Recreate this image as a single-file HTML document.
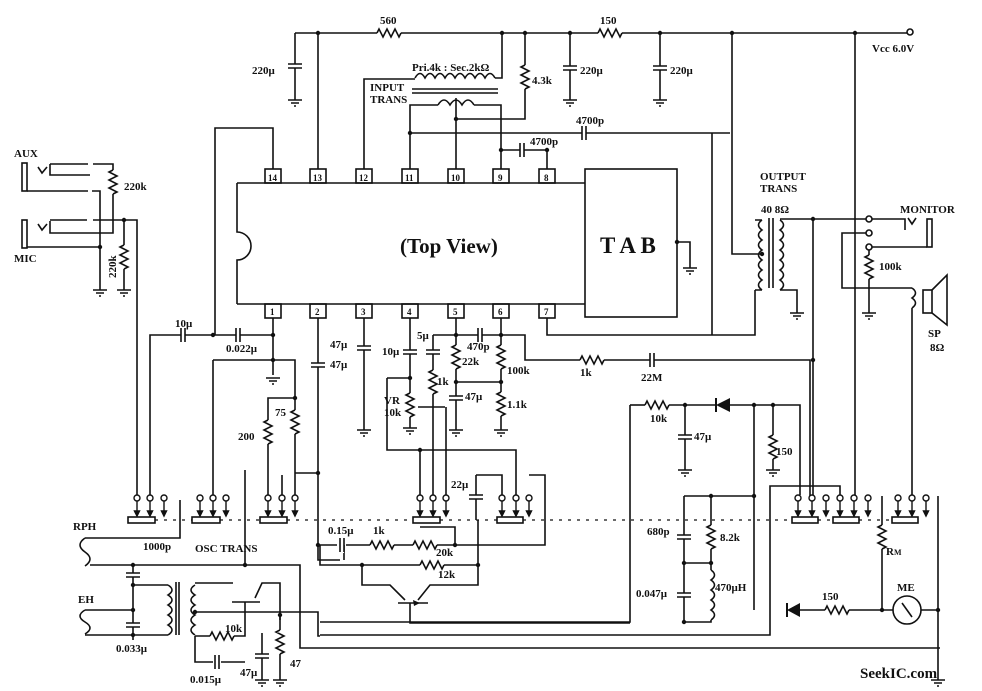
<!DOCTYPE html>
<html><head><meta charset="utf-8"><style>
html,body{margin:0;padding:0;background:#fff}
svg{display:block}
text{font-family:"Liberation Serif",serif;fill:#111;font-weight:bold}
.s{font-size:11px}
</style></head><body>
<svg width="982" height="691" viewBox="0 0 982 691" xmlns="http://www.w3.org/2000/svg">
<defs>
<path id="rh" d="M0 0 l2 -4 l4 8 l4 -8 l4 8 l4 -8 l4 8 l2 -4"/>
<path id="rv" d="M0 0 l-4 2 l8 4 l-8 4 l8 4 l-8 4 l8 4 l-4 2"/>
<g id="g"><path d="M-7 0 h14 M-4 3 h8 M-1 6 h2"/></g>
<g id="cv"><rect x="-8" y="-2" width="16" height="4" fill="#fff" stroke="none"/><path d="M-7 -2 h14 M-7 2 h14"/></g>
<g id="ch"><rect x="-2" y="-8" width="4" height="16" fill="#fff" stroke="none"/><path d="M-2 -7 v14 M2 -7 v14"/></g>
<g id="sw"><circle cx="0" cy="0" r="3" fill="#fff"/><path d="M0 3 V16"/><path d="M-2.5 13 L0 18 L2.5 13 Z" fill="#111"/></g>
</defs>
<g stroke="#111" stroke-width="1.6" fill="none">
<!-- top rail -->
<path d="M295 33 H377 M401 33 H598 M622 33 H907"/>
<use href="#rh" x="377" y="33"/><use href="#rh" x="598" y="33"/>
<path d="M295 33 V100"/><use href="#cv" x="295" y="66"/><use href="#g" x="295" y="100"/>
<path d="M318 33 V169"/>
<path d="M570 33 V100"/><use href="#cv" x="570" y="68"/><use href="#g" x="570" y="100"/>
<path d="M660 33 V100"/><use href="#cv" x="660" y="68"/><use href="#g" x="660" y="100"/>
<path d="M502 33 V78 H495"/>
<path d="M525 33 V65"/><use href="#rv" x="525" y="65"/><path d="M525 89 V119 H456"/>
<path d="M732 33 V254 H762"/>
<path d="M855 33 V500"/>
<circle cx="910" cy="32" r="3" fill="#fff"/>
<!-- input trans -->
<path d="M364 169 V79 H415"/>
<path d="M415 78 q5 -9 10 0 q5 -9 10 0 q5 -9 10 0 q5 -9 10 0 q5 -9 10 0 q5 -9 10 0 q5 -9 10 0 q5 -9 10 0"/>
<path d="M412 89 h86 M412 93 h86"/>
<path d="M438 105 q6 -10 12 0 q6 -10 12 0 q6 -10 12 0 M438 105 H410 V169 M474 105 H501 V169 M456 98 V169"/>
<path d="M410 133 H730"/><use href="#ch" x="584" y="133"/>
<path d="M501 150 H547 V169"/><use href="#ch" x="522" y="150"/>
<path d="M273 169 V128 H215 V335"/>
<!-- IC -->
<path d="M237 183 H585 M237 304 H585 M237 183 V232 A13 13 0 0 1 237 260 V304"/>
<rect x="585" y="169" width="92" height="148"/>
<path d="M677 242 H690 V268"/><use href="#g" x="690" y="268"/>
<rect x="265" y="169" width="16" height="14"/><rect x="310" y="169" width="16" height="14"/><rect x="356" y="169" width="16" height="14"/><rect x="402" y="169" width="16" height="14"/><rect x="448" y="169" width="16" height="14"/><rect x="493" y="169" width="16" height="14"/><rect x="539" y="169" width="16" height="14"/>
<rect x="265" y="304" width="16" height="14"/><rect x="310" y="304" width="16" height="14"/><rect x="356" y="304" width="16" height="14"/><rect x="402" y="304" width="16" height="14"/><rect x="448" y="304" width="16" height="14"/><rect x="493" y="304" width="16" height="14"/><rect x="539" y="304" width="16" height="14"/>
<!-- left jacks -->
<rect x="22" y="163" width="5" height="28"/><rect x="22" y="220" width="5" height="28"/>
<path d="M38 167 l4 6 l5 -6 M38 224 l4 6 l5 -6"/>
<path d="M50 164 V175 H90 M50 164 H88 M93 164 H113 V170"/><use href="#rv" x="113" y="170"/><path d="M113 194 V233 H50 V221"/>
<path d="M27 191 H88 M92 191 H100 V290"/><use href="#g" x="100" y="290"/>
<path d="M50 220 H87 M93 220 H137 V500"/>
<path d="M27 247 H100"/>
<path d="M124 220 V245"/><use href="#rv" x="124" y="245"/><path d="M124 269 V290"/><use href="#g" x="124" y="290"/>
<!-- pin1 area -->
<path d="M150 500 V335 H213 M213 335 H273 M273 318 V375"/>
<use href="#ch" x="183" y="335"/><use href="#ch" x="238" y="335"/>
<use href="#g" x="273" y="378"/>
<path d="M213 360 H295 V398 H268 V420 M213 360 V500"/>
<use href="#rv" x="268" y="420"/><path d="M268 444 V495"/>
<path d="M295 398 V410"/><use href="#rv" x="295" y="410"/><path d="M295 434 V495 M282 475 V495 M295 473 H318"/>
<!-- pins bottom -->
<path d="M318 318 V560 H340 M344 545 V560 M318 545 H337"/><use href="#cv" x="318" y="365"/>
<use href="#ch" x="342" y="545"/><path d="M346 545 H370"/><use href="#rh" x="370" y="545"/><path d="M394 545 H413"/><use href="#rh" x="413" y="545"/><path d="M437 545 H545 V475 H529 M455 545 V527 H420"/>
<path d="M364 318 V430"/><use href="#cv" x="364" y="348"/><use href="#g" x="364" y="430"/>
<path d="M410 318 V393"/><use href="#cv" x="410" y="352"/><path d="M387 378 H410"/><use href="#rv" x="410" y="393"/><path d="M410 417 V428"/><use href="#g" x="410" y="428"/>
<path d="M445 407 H418 M387 378 V450 H516 V495 M420 450 V495 M433 335 V370"/><use href="#cv" x="433" y="352"/><use href="#rv" x="433" y="370"/><path d="M433 394 V495 M446 407 V500" />
<path d="M433 335 H501 M456 318 V345"/><use href="#ch" x="480" y="335"/><use href="#rv" x="456" y="345"/><path d="M456 369 V430 M456 382 H501"/><use href="#cv" x="456" y="398"/><use href="#g" x="456" y="430"/>
<path d="M501 318 V345"/><use href="#rv" x="501" y="345"/><path d="M501 369 V392"/><use href="#rv" x="501" y="392"/><path d="M501 416 V430"/><use href="#g" x="501" y="430"/>
<path d="M501 335 H525 V360 H580"/><use href="#rh" x="580" y="360"/><path d="M604 360 H810 V500"/><use href="#ch" x="652" y="360"/>
<path d="M547 318 V335 H712 V133 M712 335 H755 V290"/>
<path d="M476 475 V520 M476 475 H502 V495"/><use href="#cv" x="476" y="497"/>
<!-- output trans -->
<path d="M762 220 q-7 5 0 10 q-7 5 0 10 q-7 5 0 10 q-7 5 0 10 q-7 5 0 10 q-7 5 0 10 q-7 5 0 10 M755 220 H762 M755 290 H762"/>
<path d="M769 218 V288 M773 218 V288"/>
<path d="M780 220 q7 5 0 10 q7 5 0 10 q7 5 0 10 q7 5 0 10 q7 5 0 10 q7 5 0 10 q7 5 0 10 M780 219 H866 M780 290 H797 V313"/><use href="#g" x="797" y="313"/>
<path d="M813 219 V500"/>
<path d="M866 233 H842 V288 H912"/>
<path d="M912 288 q7 5 0 10 q7 5 0 10 M912 308 V500"/>
<path d="M869 250 V255"/><use href="#rv" x="869" y="255"/><path d="M869 279 V313"/><use href="#g" x="869" y="313"/>
<circle cx="869" cy="219" r="3" fill="#fff"/><circle cx="869" cy="233" r="3" fill="#fff"/><circle cx="869" cy="247" r="3" fill="#fff"/>
<path d="M872 219 H905 V230 M908 218 l4 6 l4 -6 M872 247 H927"/>
<rect x="927" y="219" width="5" height="28"/>
<rect x="923" y="290" width="9" height="23"/><path d="M932 290 L947 275 V325 L932 313"/>
<!-- lower right -->
<path d="M630 405 H645"/><use href="#rh" x="645" y="405"/><path d="M669 405 H716 M730 405 H800 V495 M630 405 V622 H320"/>
<path d="M685 405 V470"/><use href="#cv" x="685" y="437"/><use href="#g" x="685" y="470"/>
<path d="M773 405 V435"/><use href="#rv" x="773" y="435"/><path d="M773 459 V470"/><use href="#g" x="773" y="470"/>
<path d="M754 405 V610"/>
<path d="M684 496 H754 M684 496 V622"/><use href="#cv" x="684" y="537"/><use href="#cv" x="684" y="595"/>
<path d="M711 496 V525"/><use href="#rv" x="711" y="525"/><path d="M711 549 V570 M684 563 H711"/>
<path d="M711 570 q7 5 0 10 q7 5 0 10 q7 5 0 10 q7 5 0 10 q7 5 0 10 M711 620 V622 H684"/>
<path d="M320 635 H770 V486 H840 V496"/>
<path d="M800 610 H825"/><use href="#rh" x="825" y="610"/><path d="M849 610 H893 M921 610 H938 M882 496 V500 H882 V525"/><use href="#rv" x="882" y="525"/><path d="M882 549 V610"/>
<circle cx="907" cy="610" r="14"/><path d="M902 603 L912 617"/>
<path d="M938 496 V680"/><use href="#g" x="938" y="680"/>
<!-- lower left -->
<path d="M180 500 V538 H85 M90 565 H245 M245 565 V470 M245 565 H300 V648 H940"/>
<path d="M85 538 q-10 7 0 14 q10 7 0 14"/>
<path d="M133 565 V640"/><use href="#cv" x="133" y="575"/><use href="#cv" x="133" y="625"/>
<path d="M133 585 H168 M133 610 H85 M85 635 H133 H168"/>
<path d="M85 610 q-10 6 0 12 q10 6 0 12"/>
<path d="M168 585 q8 5 0 10 q8 5 0 10 q8 5 0 10 q8 5 0 10 q8 5 0 10"/>
<path d="M176 582 V635 M179 582 V635"/>
<path d="M195 585 q-8 5 0 10 q-8 5 0 10 q-8 5 0 10 q-8 5 0 10 q-8 5 0 10"/>
<path d="M195 583 H233 M195 612 H318 V636 H320 M195 636 H210"/><use href="#rh" x="210" y="636"/><path d="M234 636 H245 V603"/>
<path d="M195 636 V662 H213"/><use href="#ch" x="217" y="662"/><path d="M221 662 H245"/>
<path d="M232 602 H260 M245 602 V603 M255 598 L262 583 H280 V620"/>
<path d="M262 633 V680"/><use href="#cv" x="262" y="656"/><use href="#g" x="262" y="680"/>
<path d="M280 615 V630"/><use href="#rv" x="280" y="630"/><path d="M280 654 V680"/><use href="#g" x="280" y="680"/>
<!-- transistor right -->
<path d="M320 545 V565 H420"/><use href="#rh" x="420" y="565"/><path d="M444 565 H478 V520 M478 565 V585 H430 L418 600 M362 565 V585 H390 L405 600 M398 603 H428 M410 603 V623 H630"/>
<!-- switches -->
<rect x="128" y="517" width="27" height="6"/><rect x="192" y="517" width="28" height="6"/><rect x="260" y="517" width="27" height="6"/><rect x="413" y="517" width="27" height="6"/><rect x="497" y="517" width="26" height="6"/>
<rect x="792" y="517" width="26" height="6"/><rect x="833" y="517" width="26" height="6"/><rect x="892" y="517" width="26" height="6"/>
<path stroke-width="1.2" stroke-dasharray="3 6" d="M155 520 H192 M220 520 H260 M287 520 H413 M440 520 H497 M523 520 H792 M818 520 H833 M859 520 H892"/>
</g>
<g stroke="#111" stroke-width="1.4" fill="none">
<use href="#sw" x="137" y="498"/><use href="#sw" x="150" y="498"/><use href="#sw" x="164" y="498"/>
<use href="#sw" x="200" y="498"/><use href="#sw" x="213" y="498"/><use href="#sw" x="226" y="498"/>
<use href="#sw" x="268" y="498"/><use href="#sw" x="282" y="498"/><use href="#sw" x="295" y="498"/>
<use href="#sw" x="420" y="498"/><use href="#sw" x="433" y="498"/><use href="#sw" x="446" y="498"/>
<use href="#sw" x="502" y="498"/><use href="#sw" x="516" y="498"/><use href="#sw" x="529" y="498"/>
<use href="#sw" x="798" y="498"/><use href="#sw" x="812" y="498"/><use href="#sw" x="826" y="498"/>
<use href="#sw" x="840" y="498"/><use href="#sw" x="854" y="498"/><use href="#sw" x="868" y="498"/>
<use href="#sw" x="898" y="498"/><use href="#sw" x="912" y="498"/><use href="#sw" x="926" y="498"/>
</g>
<g fill="#111">
<circle cx="318" cy="33" r="2.2"/><circle cx="502" cy="33" r="2.2"/><circle cx="525" cy="33" r="2.2"/><circle cx="570" cy="33" r="2.2"/><circle cx="660" cy="33" r="2.2"/><circle cx="732" cy="33" r="2.2"/><circle cx="855" cy="33" r="2.2"/>
<circle cx="456" cy="119" r="2.2"/><circle cx="677" cy="242" r="2.2"/><circle cx="501" cy="150" r="2.2"/><circle cx="547" cy="150" r="2.2"/><circle cx="410" cy="133" r="2.2"/>
<circle cx="213" cy="335" r="2.2"/><circle cx="273" cy="335" r="2.2"/><circle cx="273" cy="360" r="2.2"/><circle cx="295" cy="398" r="2.2"/><circle cx="318" cy="473" r="2.2"/><circle cx="124" cy="220" r="2.2"/><circle cx="100" cy="247" r="2.2"/>
<circle cx="410" cy="378" r="2.2"/><circle cx="456" cy="335" r="2.2"/><circle cx="501" cy="335" r="2.2"/><circle cx="456" cy="382" r="2.2"/><circle cx="501" cy="382" r="2.2"/><circle cx="420" cy="450" r="2.2"/>
<circle cx="813" cy="219" r="2.2"/><circle cx="813" cy="360" r="2.2"/><circle cx="762" cy="254" r="2.2"/>
<circle cx="685" cy="405" r="2.2"/><circle cx="754" cy="405" r="2.2"/><circle cx="773" cy="405" r="2.2"/><circle cx="754" cy="496" r="2.2"/><circle cx="711" cy="496" r="2.2"/><circle cx="684" cy="563" r="2.2"/><circle cx="711" cy="563" r="2.2"/><circle cx="684" cy="622" r="2.2"/>
<circle cx="882" cy="610" r="2.2"/><circle cx="938" cy="610" r="2.2"/>
<circle cx="245" cy="565" r="2.2"/><circle cx="133" cy="565" r="2.2"/><circle cx="133" cy="585" r="2.2"/><circle cx="133" cy="610" r="2.2"/><circle cx="133" cy="635" r="2.2"/><circle cx="195" cy="612" r="2.2"/><circle cx="280" cy="615" r="2.2"/>
<circle cx="318" cy="545" r="2.2"/><circle cx="362" cy="565" r="2.2"/><circle cx="478" cy="565" r="2.2"/><circle cx="455" cy="545" r="2.2"/>
<path d="M716 405 L730 398 V412 Z"/><path d="M716 398 V412" stroke="#111" stroke-width="2"/>
<path d="M787 610 L800 603 V617 Z"/><path d="M787 603 V617" stroke="#111" stroke-width="2"/>
<path d="M413 600 L420 603 L414 606 Z"/>
</g>
<text x="380" y="24" class="s">560</text>
<text x="600" y="24" class="s">150</text>
<text x="252" y="74" class="s">220μ</text>
<text x="580" y="74" class="s">220μ</text>
<text x="670" y="74" class="s">220μ</text>
<text x="532" y="84" class="s">4.3k</text>
<text x="412" y="71" class="s">Pri.4k : Sec.2kΩ</text>
<text x="370" y="91" class="s">INPUT</text>
<text x="370" y="103" class="s">TRANS</text>
<text x="576" y="124" class="s">4700p</text>
<text x="530" y="145" class="s">4700p</text>
<text x="872" y="52" class="s">Vcc  6.0V</text>
<text x="760" y="180" class="s">OUTPUT</text>
<text x="760" y="192" class="s">TRANS</text>
<text x="761" y="213" class="s">40   8Ω</text>
<text x="900" y="213" class="s">MONITOR</text>
<text x="879" y="270" class="s">100k</text>
<text x="928" y="337" class="s">SP</text>
<text x="930" y="351" class="s">8Ω</text>
<text x="14" y="157" class="s">AUX</text>
<text x="14" y="262" class="s">MIC</text>
<text x="124" y="190" class="s">220k</text>
<text x="0" y="0" class="s" transform="translate(116,278) rotate(-90)">220k</text>
<text x="268" y="181" font-size="9">14</text><text x="313" y="181" font-size="9">13</text><text x="359" y="181" font-size="9">12</text><text x="405" y="181" font-size="9">11</text><text x="451" y="181" font-size="9">10</text><text x="498" y="181" font-size="9">9</text><text x="544" y="181" font-size="9">8</text>
<text x="270" y="315" font-size="9">1</text><text x="315" y="315" font-size="9">2</text><text x="361" y="315" font-size="9">3</text><text x="407" y="315" font-size="9">4</text><text x="453" y="315" font-size="9">5</text><text x="498" y="315" font-size="9">6</text><text x="544" y="315" font-size="9">7</text>
<text x="400" y="253" font-size="21" font-weight="normal">(Top View)</text>
<text x="600" y="253" font-size="23" font-weight="normal">T A B</text>
<text x="175" y="327" class="s">10μ</text>
<text x="226" y="352" class="s">0.022μ</text>
<text x="330" y="348" class="s">47μ</text>
<text x="330" y="368" class="s">47μ</text>
<text x="382" y="355" class="s">10μ</text>
<text x="417" y="339" class="s">5μ</text>
<text x="467" y="350" class="s">470p</text>
<text x="462" y="365" class="s">22k</text>
<text x="507" y="374" class="s">100k</text>
<text x="580" y="376" class="s">1k</text>
<text x="641" y="381" class="s">22M</text>
<text x="384" y="404" class="s">VR</text><text x="384" y="416" class="s">10k</text>
<text x="437" y="385" class="s">1k</text>
<text x="465" y="400" class="s">47μ</text>
<text x="507" y="408" class="s">1.1k</text>
<text x="275" y="416" class="s">75</text>
<text x="238" y="440" class="s">200</text>
<text x="650" y="422" class="s">10k</text>
<text x="694" y="440" class="s">47μ</text>
<text x="776" y="455" class="s">150</text>
<text x="451" y="488" class="s">22μ</text>
<text x="328" y="534" class="s">0.15μ</text>
<text x="373" y="534" class="s">1k</text>
<text x="436" y="556" class="s">20k</text>
<text x="438" y="578" class="s">12k</text>
<text x="647" y="535" class="s">680p</text>
<text x="720" y="541" class="s">8.2k</text>
<text x="636" y="597" class="s">0.047μ</text>
<text x="715" y="591" class="s">470μH</text>
<text x="886" y="555" class="s">R<tspan font-size="8">M</tspan></text>
<text x="897" y="591" class="s">ME</text>
<text x="822" y="600" class="s">150</text>
<text x="73" y="530" class="s">RPH</text>
<text x="78" y="603" class="s">EH</text>
<text x="143" y="550" class="s">1000p</text>
<text x="195" y="552" class="s">OSC TRANS</text>
<text x="116" y="652" class="s">0.033μ</text>
<text x="225" y="632" class="s">10k</text>
<text x="190" y="683" class="s">0.015μ</text>
<text x="240" y="676" class="s">47μ</text>
<text x="290" y="667" class="s">47</text>
<text x="860" y="678" font-family="Liberation Sans,sans-serif" font-size="15" font-weight="bold" fill="#555">SeekIC.com</text>
</svg>
</body></html>
